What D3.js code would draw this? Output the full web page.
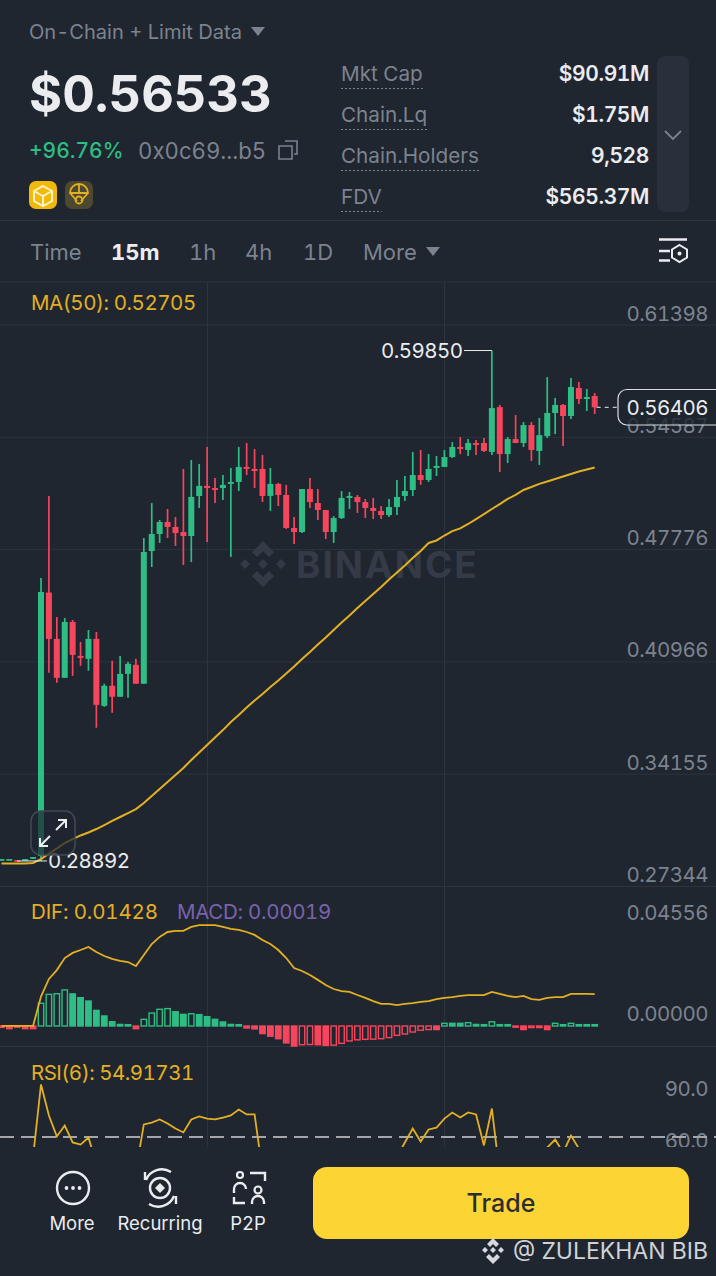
<!DOCTYPE html>
<html>
<head>
<meta charset="utf-8">
<script src="https://cdn.jsdelivr.net/npm/d3@7"></script>
<style>
  html, body { margin: 0; padding: 0; background: #1f2630; }
  svg { display: block; font-family: Inter, "Noto Sans", sans-serif; font-feature-settings: "tnum"; }
</style>
</head>
<body>
<svg id="chart" width="716" height="1276"></svg>
<script>
// candles, oldest first
const opens = [
  .2895, .2895, .2895, .2895, .2907,
  .2919, .4517, .4236, .4000, .4339, .4133, .4115, .4236, .3830, .3952,
  .3885, .4024, .4079, .3964, .4769, .4872, .4945, .4915, .4884, .4860,
  .5103, .5164, .5151, .5151, .5176, .5188, .5279, .5267, .5267, .5103,
  .5176, .5109, .4909, .4884, .5145, .5060, .5018, .4884, .4969, .5091,
  .5097, .5066, .5030, .5012, .4987, .5036, .5103, .5139, .5230, .5200,
  .5273, .5279, .5339, .5400, .5382, .5424, .5424, .5370, .5642, .5357,
  .5448, .5424, .5533, .5376, .5466, .5606, .5655, .5588, .5758, .5691, .5709
];
const highs = [
  .2901, .2901, .2895, .2901, .2913,
  .4605, .5103, .4369, .4363, .4351, .4218, .4290, .4278, .3964, .4103,
  .4133, .4097, .4115, .4848, .5060, .4957, .5024, .4975, .5267, .5321,
  .5297, .5400, .5212, .5230, .5273, .5400, .5424, .5388, .5351, .5273,
  .5182, .5170, .4975, .5145, .5212, .5145, .5018, .4981, .5133, .5127,
  .5109, .5085, .5091, .5042, .5085, .5200, .5224, .5370, .5382, .5357,
  .5345, .5382, .5430, .5460, .5448, .5442, .5454, .59850, .5655, .5460,
  .5594, .5551, .5551, .5576, .5824, .5697, .5661, .5818, .5794, .5752, .5727
];
const lows = [
  .2895, .2895, .2889, .2895, .2901,
  .28892, .4031, .3970, .4000, .4012, .4073, .4043, .3697, .3824, .3788,
  .3885, .3879, .3964, .3964, .4672, .4818, .4848, .4800, .4684, .4702,
  .5030, .4824, .5060, .5078, .4733, .5133, .5230, .5151, .5066, .5012,
  .5042, .4903, .4812, .4878, .5030, .4957, .4842, .4818, .4963, .5024,
  .5000, .4969, .4963, .4963, .4975, .4987, .5072, .5103, .5170, .5188,
  .5224, .5279, .5333, .5357, .5345, .5351, .5370, .5351, .5248, .5303,
  .5424, .5400, .5315, .5291, .5454, .5478, .5406, .5570, .5661, .5618, .5600
];
const closes = [
  .2901, .2901, .2889, .2901, .2913,
  .4521, .4236, .4000, .4339, .4139, .4121, .4236, .3836, .3952, .3885,
  .4024, .4085, .3964, .4763, .4872, .4945, .4915, .4878, .4860, .5097,
  .5164, .5151, .5139, .5170, .5188, .5279, .5267, .5254, .5103, .5176,
  .5109, .4909, .4884, .5145, .5066, .5018, .4884, .4969, .5091, .5103,
  .5066, .5030, .5012, .4987, .5036, .5097, .5133, .5230, .5200, .5267,
  .5285, .5339, .5400, .5388, .5424, .5412, .5376, .5636, .5357, .5448,
  .5424, .5533, .5382, .5472, .5606, .5655, .5588, .5764, .5691, .5703, .56406
];
const ma50 = [
  .2874, .2874, .2874, .2874, .2877,
  .2901, .2934, .2965, .2998, .3022, .3044, .3062, .3083, .3107, .3132,
  .3156, .3180, .3204, .3241, .3283, .3326, .3368, .3411, .3453, .3502,
  .3547, .3593, .3638, .3683, .3732, .3774, .3820, .3862, .3902, .3944,
  .3984, .4026, .4069, .4114, .4157, .4202, .4245, .4290, .4335, .4378,
  .4423, .4466, .4508, .4551, .4596, .4639, .4681, .4727, .4769, .4818,
  .4833, .4863, .4890, .4906, .4933, .4963, .4993, .5024, .5054, .5085,
  .5109, .5139, .5157, .5176, .5191, .5206, .5221, .5236, .5251, .5263, .5275
];
const dif = [
  .0001, .0001, .0001, .0001, .0001,
  .0132, .0211, .0251, .0305, .0328, .0341, .0355, .0332, .0314, .0301,
  .0292, .0287, .0269, .0319, .0368, .0400, .0422, .0427, .0427, .0445,
  .0453, .0453, .0453, .0445, .0436, .0431, .0422, .0409, .0386, .0368,
  .0341, .0305, .0260, .0247, .0229, .0207, .0184, .0166, .0157, .0153,
  .0139, .0126, .0112, .0099, .0099, .0094, .0099, .0103, .0108, .0112,
  .0121, .0126, .0130, .0135, .0139, .0139, .0139, .0153, .0144, .0135,
  .0130, .0135, .0121, .0117, .0126, .0130, .0130, .0144, .0144, .0144, .01428
];
const hist = [
  -.0006, -.0012, -.0004, -.0012, -.0012,
  .0102, .0142, .0145, .0162, .0144, .0127, .0112, .0070, .0045, .0019,
  .0007, .0006, -.0012, .0030, .0058, .0075, .0078, .0064, .0052, .0055,
  .0051, .0042, .0030, .0018, .0007, .0006, -.0009, -.0013, -.0034, -.0046,
  -.0057, -.0076, -.0090, -.0084, -.0083, -.0084, -.0087, -.0086, -.0078, -.0067,
  -.0062, -.0060, -.0059, -.0057, -.0052, -.0042, -.0036, -.0027, -.0019, -.0016,
  -.0016, .0012, .0012, .0012, .0015, .0007, .0006, .0019, .0006, .0006,
  -.0004, -.0016, -.0007, -.0007, -.0016, .0012, .0006, .0012, .0006, .0006, .0006
];
const rsi6 = [
  50, 50, 50, 50, 57,
  98.7, 80.8, 68.7, 75, 65.2, 64, 68.1, 53, 50, 46,
  52, 54, 49, 75.6, 76.7, 78.5, 76.2, 73.3, 71, 78.5,
  80.2, 79, 78.5, 79.6, 80.8, 84.2, 81.4, 81.4, 48.5, 45,
  46, 36, 35, 45, 40, 38, 36, 44, 52, 46,
  44, 42, 41, 38, 44, 57, 65.2, 73.3, 65.8, 72.7,
  73.8, 79, 82.5, 79.6, 82.5, 81.4, 63.5, 84.8, 46.7, 50,
  46, 50, 48, 54, 62.3, 66.9, 59.4, 69.2, 61.7, 57, 54.9
];

const priceTicks = [0.61398, 0.54587, 0.47776, 0.40966, 0.34155, 0.27344];
const macdTicks = [0.04556, 0];
const rsiTicks = [90, 60];
const rsiDash = 68.3;
const lastPrice = 0.56406;
const highPrice = 0.5985;
const lowPrice = 0.28892;

const tabs = ["Time", "15m", "1h", "4h", "1D", "More"];
const statNames = ["Mkt Cap", "Chain.Lq", "Chain.Holders", "FDV"];
const statValues = ["$90.91M", "$1.75M", "9,528", "$565.37M"];
const navItems = ["More", "Recurring", "P2P"];

const bg = "#1f2630", gridCol = "#2d343e", green = "#2ebd85", red = "#f6465d",
      gold = "#e3b023", grey = "#7c838e";

const svg = d3.select("#chart");
svg.append("rect").attr("width", 716).attr("height", 1276).attr("fill", bg);

function label(x, y, str, size, fill, opts = {}) {
  return svg.append("text").attr("x", x).attr("y", y)
    .attr("dominant-baseline", "central")
    .attr("text-anchor", opts.anchor || "start")
    .attr("font-size", size)
    .attr("font-weight", opts.weight || 400)
    .attr("letter-spacing", opts.ls || 0)
    .attr("fill", fill)
    .text(str);
}

// scales
const idx = d3.range(opens.length);
const x = d3.scaleLinear().domain([0, 75]).range([1.45, 594.7]);
const y = d3.scaleLinear().domain([0.27344, 0.61398]).range([886.5, 325]);
const yMacd = d3.scaleLinear().domain([0, 0.04556]).range([1026, 924.5]);
const yRsi = d3.scaleLinear().domain([60, 90]).range([1151.5, 1099.5]);

// header
label(29, 32, "On-Chain + Limit Data", 20.1, grey);
svg.append("path").attr("d", "M251 27h14l-7 9z").attr("fill", grey);
label(29, 93, "$0.56533", 50.6, "#eaecef", { weight: 700 });
label(29, 150, "+96.76%", 21, green, { weight: 500 });
label(138, 150, "0x0c69...b5", 22.2, grey);
svg.append("path").attr("d", "M285 141h12v13h-3M279 146h13v13h-13z")
  .attr("fill", "none").attr("stroke", grey).attr("stroke-width", 1.6);

svg.append("rect").attr("x", 29).attr("y", 181).attr("width", 28).attr("height", 28).attr("rx", 7).attr("fill", "#f0b90b");
svg.append("path").attr("d", "M43 186l9 5v10l-9 5-9-5v-10zM34 191l9 5 9-5M43 196v10")
  .attr("fill", "none").attr("stroke", "#fff3c4").attr("stroke-width", 2);
svg.append("rect").attr("x", 65).attr("y", 181).attr("width", 28).attr("height", 28).attr("rx", 7).attr("fill", "#4d4830");
svg.append("path").attr("d", "M70 193a9 9 0 0 1 18 0zM79 184v9M70 193l7 8M88 193l-7 8")
  .attr("fill", "none").attr("stroke", "#e3b023").attr("stroke-width", 1.8);
svg.append("circle").attr("cx", 79).attr("cy", 200).attr("r", 3.5).attr("fill", "none").attr("stroke", "#e3b023").attr("stroke-width", 1.8);

statNames.forEach((s, i) => {
  const rowY = 73 + i * 41;
  const t = label(341, rowY, s, 20.7, grey);
  const w = t.node().getComputedTextLength();
  svg.append("line").attr("x1", 341).attr("x2", 341 + w).attr("y1", rowY + 15.5).attr("y2", rowY + 15.5)
    .attr("stroke", grey).attr("stroke-width", 1).attr("stroke-dasharray", "2 2");
  label(649, rowY, statValues[i], 21, "#eaecef", { anchor: "end", weight: 600, ls: -0.4 });
});
svg.append("rect").attr("x", 657).attr("y", 56).attr("width", 32).attr("height", 156).attr("rx", 8).attr("fill", "#2a303b");
svg.append("path").attr("d", "M665 131l8 8 8-8").attr("fill", "none").attr("stroke", grey).attr("stroke-width", 1.8);

svg.append("line").attr("x1", 0).attr("x2", 716).attr("y1", 220.5).attr("y2", 220.5).attr("stroke", gridCol).attr("stroke-width", 1.2);

// tabs
const tabX = [30, 111, 189, 245, 303, 363];
tabs.forEach((t, i) => label(tabX[i], 252, t, 22, i === 1 ? "#eaecef" : grey, { weight: i === 1 ? 700 : 400 }));
svg.append("path").attr("d", "M426 247h14l-7 9z").attr("fill", grey);
svg.append("path").attr("d", "M659 239.500h28M659 251h11M659 260.500h11").attr("stroke", "#eaecef").attr("stroke-width", 2.4).attr("fill", "none");
svg.append("path").attr("d", "M679.500 245l7.500 4.500v8l-7.500 4.500-7.500-4.500v-8z").attr("stroke", "#eaecef").attr("stroke-width", 2).attr("fill", "none");
svg.append("circle").attr("cx", 679.5).attr("cy", 253.5).attr("r", 2).attr("fill", "#eaecef");
svg.append("line").attr("x1", 0).attr("x2", 716).attr("y1", 282).attr("y2", 282).attr("stroke", gridCol);

// grid
const gridV = [207.5, 444.5];
svg.append("g").selectAll("line").data(gridV).join("line")
  .attr("x1", d => d).attr("x2", d => d).attr("y1", 282).attr("y2", 1147)
  .attr("stroke", gridCol);
svg.append("g").selectAll("line").data(priceTicks).join("line")
  .attr("x1", 0).attr("x2", 716).attr("y1", d => y(d)).attr("y2", d => y(d))
  .attr("stroke", gridCol);
svg.append("line").attr("x1", 0).attr("x2", 716).attr("y1", 1046.5).attr("y2", 1046.5).attr("stroke", gridCol);

// watermark
const wm = svg.append("g").attr("fill", "#343b46");
wm.append("path").attr("d", "M263 541l11 11-5 5-6-6-6 6-5-5zM240 564l5-5 5 5-5 5zM276 564l5-5 5 5-5 5zM263 559l5 5-5 5-5-5zM263 587l-11-11 5-5 6 6 6-6 5 5z");
wm.append("text").attr("x", 296).attr("y", 564).attr("dominant-baseline", "central")
  .attr("font-size", 37).attr("font-weight", 700).attr("letter-spacing", 2).text("BINANCE");

// axes, labels sit just above their grid lines
function rightAxis(scale, ticks, fmt, dy) {
  const g = svg.append("g").attr("transform", "translate(708,0)")
    .call(d3.axisRight(scale).tickValues(ticks).tickFormat(fmt).tickSize(0).tickPadding(0));
  g.select(".domain").remove();
  g.selectAll("text")
    .attr("text-anchor", "end")
    .attr("dy", 0)
    .attr("y", dy)
    .attr("dominant-baseline", "central")
    .attr("font-size", 20.5)
    .attr("letter-spacing", -0.55)
    .attr("font-family", "Inter, 'Noto Sans', sans-serif")
    .attr("fill", grey);
}
rightAxis(y, priceTicks, d3.format(".5f"), -12.5);
rightAxis(yMacd, macdTicks, d3.format(".5f"), -13);
rightAxis(yRsi, rsiTicks, d3.format(".1f"), -12);

// candles
const colour = i => closes[i] >= opens[i] ? green : red;
const candles = svg.append("g").selectAll("g").data(idx).join("g");
candles.append("line")
  .attr("x1", i => x(i)).attr("x2", i => x(i))
  .attr("y1", i => y(highs[i])).attr("y2", i => y(lows[i]))
  .attr("stroke", colour).attr("stroke-width", 1.7);
candles.append("rect")
  .attr("x", i => x(i) - 3)
  .attr("width", 6)
  .attr("y", i => y(Math.max(opens[i], closes[i])))
  .attr("height", i => Math.max(1.8, Math.abs(y(opens[i]) - y(closes[i]))))
  .attr("fill", colour);

// MA(50)
label(31, 302, "MA(50): 0.52705", 20.5, gold, { ls: -0.45 });
svg.append("path").datum(idx)
  .attr("d", d3.line().x(i => x(i)).y(i => y(ma50[i])))
  .attr("fill", "none").attr("stroke", gold).attr("stroke-width", 2);

// high / low / last markers
svg.append("path").attr("d", `M${x(62)} ${y(highPrice)}H464`).attr("stroke", "#eaecef").attr("fill", "none");
label(381, y(highPrice), d3.format(".5f")(highPrice), 20.5, "#eaecef", { ls: -0.55 });
svg.append("path").attr("d", `M17 ${y(lowPrice)}H47`).attr("stroke", "#eaecef").attr("fill", "none");
label(48, y(lowPrice), d3.format(".5f")(lowPrice), 20.5, "#eaecef", { ls: -0.55 });

svg.append("line").attr("x1", x(75) + 2).attr("x2", 618).attr("y1", y(lastPrice)).attr("y2", y(lastPrice))
  .attr("stroke", "#eaecef").attr("stroke-dasharray", "4 4");
svg.append("rect").attr("x", 618).attr("y", 389.5).attr("width", 110).attr("height", 35.5).attr("rx", 9)
  .attr("fill", bg).attr("fill-opacity", 0.82).attr("stroke", "#d8dbe0").attr("stroke-width", 1.2);
label(708, y(lastPrice), d3.format(".5f")(lastPrice), 20.5, "#eaecef", { anchor: "end", ls: -0.55 });

// expand button
svg.append("rect").attr("x", 31).attr("y", 811).attr("width", 44).attr("height", 44).attr("rx", 10)
  .attr("fill", "#1f2630").attr("fill-opacity", 0.72).attr("stroke", "#434a55").attr("stroke-width", 1.5);
svg.append("path").attr("d", "M56 830l10-10M58 820h8v8M40 846l10-10M40 838v8h8")
  .attr("fill", "none").attr("stroke", "#eaecef").attr("stroke-width", 2);

// MACD pane
label(31, 911.5, "DIF: 0.01428", 20.5, gold, { ls: -0.15 });
label(177, 911.5, "MACD: 0.00019", 20.5, "#7b62ad", { ls: -0.3 });
const barW = 5.4;
svg.append("g").selectAll("rect").data(idx).join("rect")
  .attr("x", i => x(i) - barW / 2)
  .attr("width", barW)
  .attr("y", i => Math.min(yMacd(hist[i]), yMacd(0)))
  .attr("height", i => Math.max(1.2, Math.abs(yMacd(hist[i]) - yMacd(0))))
  .attr("stroke", i => hist[i] >= 0 ? green : red)
  .attr("stroke-width", 1.4)
  .attr("fill", i => (i > 0 && hist[i] > hist[i - 1]) ? bg : (hist[i] >= 0 ? green : red));
svg.append("path").datum(idx)
  .attr("d", d3.line().x(i => x(i)).y(i => yMacd(dif[i])))
  .attr("fill", "none").attr("stroke", gold).attr("stroke-width", 1.8);

// RSI pane, cut off by the bottom bar
label(31, 1072, "RSI(6): 54.91731", 20.5, gold, { ls: -0.5 });
svg.append("clipPath").attr("id", "rsi-clip").append("rect")
  .attr("x", 0).attr("y", 1047).attr("width", 716).attr("height", 100);
svg.append("line").attr("x1", 0).attr("x2", 716).attr("y1", yRsi(rsiDash)).attr("y2", yRsi(rsiDash))
  .attr("stroke", "#a3a7ad").attr("stroke-width", 2).attr("stroke-dasharray", "14 7");
svg.append("path").datum(idx)
  .attr("clip-path", "url(#rsi-clip)")
  .attr("d", d3.line().x(i => x(i)).y(i => yRsi(rsi6[i])))
  .attr("fill", "none").attr("stroke", gold).attr("stroke-width", 1.8);

// bottom bar
svg.append("rect").attr("x", 0).attr("y", 1147).attr("width", 716).attr("height", 129).attr("fill", bg);
const navX = [72, 160, 248];
navItems.forEach((t, i) => label(navX[i], 1223, t, 18.5, "#eaecef", { anchor: "middle" }));
svg.append("circle").attr("cx", 73).attr("cy", 1188).attr("r", 16).attr("fill", "none").attr("stroke", "#eaecef").attr("stroke-width", 2.4);
svg.append("g").selectAll("circle").data([-6.500, 0, 6.500]).join("circle")
  .attr("cx", d => 73 + d).attr("cy", 1188).attr("r", 1.9).attr("fill", "#eaecef");
svg.append("path").attr("d", "M146 1180a17 17 0 0 1 25-8M174 1196a17 17 0 0 1-25 8M145 1172v8M176 1204v-8")
  .attr("fill", "none").attr("stroke", "#eaecef").attr("stroke-width", 2.4);
svg.append("circle").attr("cx", 160).attr("cy", 1188).attr("r", 10).attr("fill", "none").attr("stroke", "#eaecef").attr("stroke-width", 2.4);
svg.append("path").attr("d", "M160 1183l5 5-5 5-5-5z").attr("fill", "#eaecef");
svg.append("path").attr("d", "M234 1193v-4a6 6 0 0 1 12 0M234 1197v6h11M250 1173h15v8M252 1204v-2a6 6 0 0 1 12 0v2")
  .attr("fill", "none").attr("stroke", "#eaecef").attr("stroke-width", 2.4);
svg.append("circle").attr("cx", 240).attr("cy", 1175).attr("r", 3).attr("fill", "none").attr("stroke", "#eaecef").attr("stroke-width", 2.2);
svg.append("circle").attr("cx", 258).attr("cy", 1190).attr("r", 3.5).attr("fill", "none").attr("stroke", "#eaecef").attr("stroke-width", 2.2);

svg.append("rect").attr("x", 313).attr("y", 1167).attr("width", 376).attr("height", 72).attr("rx", 14).attr("fill", "#fcd535");
label(501, 1203, "Trade", 25, "#2a2d33", { anchor: "middle", weight: 500 });

svg.append("path").attr("d", "M493 1238l6 6-3 3-3-3-3 3-3-3zM482 1250l3-3 3 3-3 3zM498 1250l3-3 3 3-3 3zM493 1247l3 3-3 3-3-3zM493 1264l-7-7 3-3 4 4 4-4 3 3z")
  .attr("fill", "#d5d8dc");
label(513, 1251, "@ ZULEKHAN BIB", 23, "#cfd2d7");
</script>
</body>
</html>
